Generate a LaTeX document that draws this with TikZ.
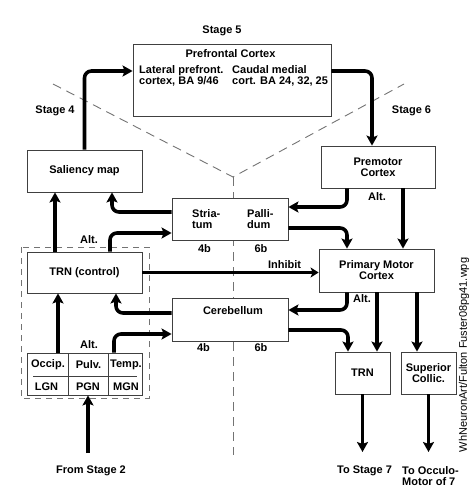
\documentclass[tikz,border=0pt]{standalone}
\usepackage{fontspec}
\setmainfont{Liberation Sans}
\usetikzlibrary{arrows.meta}
\tikzset{
  box/.style={draw=black!75, fill=white, line width=0.8pt, inner sep=0pt},
  txt/.style={font=\fontsize{11}{11}\selectfont\bfseries, align=center, inner sep=0pt},
  arr/.style={line width=3.6pt, rounded corners=7pt, -{Stealth[length=10pt,width=11pt,inset=2pt]}},
  thinarr/.style={line width=2.2pt, -{Stealth[length=8pt,width=10pt,inset=2pt]}},
  guide/.style={draw=black!55, line width=0.9pt, dash pattern=on 9pt off 6pt},
}

\begin{document}
\begin{tikzpicture}[x=1pt,y=-1pt] % 11 boxes
  \useasboundingbox (0,0) rectangle (474,501);
  \draw[guide] (53,84) -- (233,177) -- (404,84);
  \draw[guide] (233,177) -- (233,455);
  \draw[guide, dash pattern=on 6pt off 5pt] (21,247) rectangle (149,398);

  \node[box, minimum width=198pt, minimum height=72pt] (pfc) at (232,80) {};
  \node[box, txt, minimum width=115pt, minimum height=42pt] (sal) at (84.5,171) {Saliency map};
  \node[box, txt, minimum width=114pt, minimum height=42pt] (pmc) at (378,167) {Premotor\\Cortex};
  \node[box, minimum width=116pt, minimum height=42pt] (bg) at (230,219) {};
  \node[box, minimum width=116pt, minimum height=43pt] (cb) at (230,319.5) {};
  \node[box, txt, minimum width=115pt, minimum height=41pt] (trnc) at (84.5,272.5) {TRN (control)};
  \node[box, minimum width=115pt, minimum height=42pt] (thal) at (84.5,374) {};
  \node[box, txt, minimum width=115pt, minimum height=43pt] (m1) at (376.5,270.5) {Primary Motor\\Cortex};
  \node[box, txt, minimum width=55pt, minimum height=42pt] (trn) at (362.5,373) {TRN};
  \node[box, txt, minimum width=55pt, minimum height=42pt] (sc) at (428.5,373) {Superior\\Collic.};

  \node[txt] (pfcT) at (230.5,54) {Prefrontal Cortex};
  \node[txt, anchor=west, align=left] (lpfc) at (139,76) {Lateral prefront.\\cortex, BA 9/46};
  \node[txt, anchor=west, align=left] (cmc) at (232,76) {Caudal medial\\cort. BA 24, 32, 25};
  \node[txt, anchor=west, align=left] (stri) at (192,219.5) {Stria-\\tum};
  \node[txt, anchor=west, align=left] (palli) at (247,219.5) {Palli-\\dum};
  \node[txt] (cbT) at (233,311) {Cerebellum};

  \draw[black!75, line width=0.8pt] (68,353) -- (68,395) (108,353) -- (108,395) (33,376) -- (137,376);
  \node[txt] (occ) at (48,365) {Occip.};
  \node[txt] (pulv) at (88.5,365) {Pulv.};
  \node[txt] (temp) at (126,365) {Temp.};
  \node[txt] (lgn) at (46.5,387) {LGN};
  \node[txt] (pgn) at (88,387) {PGN};
  \node[txt] (mgn) at (126,387) {MGN};

  \node[txt] (st5) at (222,30.5) {Stage 5};
  \node[txt] (st4) at (55,110.5) {Stage 4};
  \node[txt] (st6) at (411.5,110.5) {Stage 6};
  \node[txt] (alt1) at (89,240) {Alt.};
  \node[txt] (alt2) at (89,344.5) {Alt.};
  \node[txt] (alt3) at (377,197) {Alt.};
  \node[txt] (alt4) at (362,299) {Alt.};
  \node[txt] (inh) at (284.5,265) {Inhibit};
  \node[txt] (b4a) at (204.5,249) {4b};
  \node[txt] (b6a) at (261,249) {6b};
  \node[txt] (b4b) at (203.5,348) {4b};
  \node[txt] (b6b) at (261,348) {6b};
  \node[txt] (fromst2) at (91,470.5) {From Stage 2};
  \node[txt] (tost7) at (364.5,470.5) {To Stage 7};
  \node[txt, anchor=west, align=left] (tooc) at (402,476.5) {To Occulo-\\Motor of 7};
  \node[font=\fontsize{11}{11}\selectfont, rotate=90, inner sep=0pt] (src) at (464,355) {WhNeuronArt/Fulton Fuster08pg41.wpg};

  \coordinate (end7) at (362.5,452);
  \coordinate (endoc) at (428.5,452);
  \coordinate (st2) at (88,453);

  \draw[arr] (sal.north) |- ([yshift=9pt]pfc.west);
  \draw[arr] ([yshift=9pt]pfc.east) -| ([xshift=-6pt]pmc.north);
  \draw[arr] ([xshift=-26.5pt]thal.north) -- ([xshift=-26.5pt]trnc.south);
  \draw[arr] ([xshift=-29.5pt]trnc.north) -- ([xshift=-29.5pt]sal.south);
  \draw[arr] ([xshift=25.5pt]trnc.north) |- ([yshift=-14pt]bg.west);
  \draw[arr] ([yshift=7pt]bg.west) -| ([xshift=27.5pt]sal.south);
  \draw[arr] ([xshift=29.5pt]thal.north) |- ([yshift=-14.5pt]cb.west);
  \draw[arr] ([yshift=6.5pt]cb.west) -| ([xshift=31.5pt]trnc.south);
  \draw[thinarr] (trnc.east) -- (trnc.east -| m1.west);
  \draw[arr] ([xshift=-31pt]pmc.south) |- ([yshift=12pt]bg.east);
  \draw[arr] ([xshift=25pt]pmc.south) -- ([xshift=25pt]pmc.south |- m1.north);
  \draw[arr] ([yshift=-9pt]bg.east) -| ([xshift=-29.5pt]m1.north);
  \draw[arr] ([xshift=-29.5pt]m1.south) |- ([yshift=9.5pt]cb.east);
  \draw[arr] ([yshift=-10.5pt]cb.east) -| ([xshift=-14.5pt]trn.north);
  \draw[arr] ([xshift=14.5pt]trn.north |- m1.south) -- ([xshift=14.5pt]trn.north);
  \draw[arr] ([xshift=-11.5pt]sc.north |- m1.south) -- ([xshift=-11.5pt]sc.north);
  \draw[arr] (trn.south) -- (end7);
  \draw[arr] (sc.south) -- (endoc);
  \draw[arr] (st2) -- ([xshift=3.5pt]thal.south);
\end{tikzpicture}
\end{document}
